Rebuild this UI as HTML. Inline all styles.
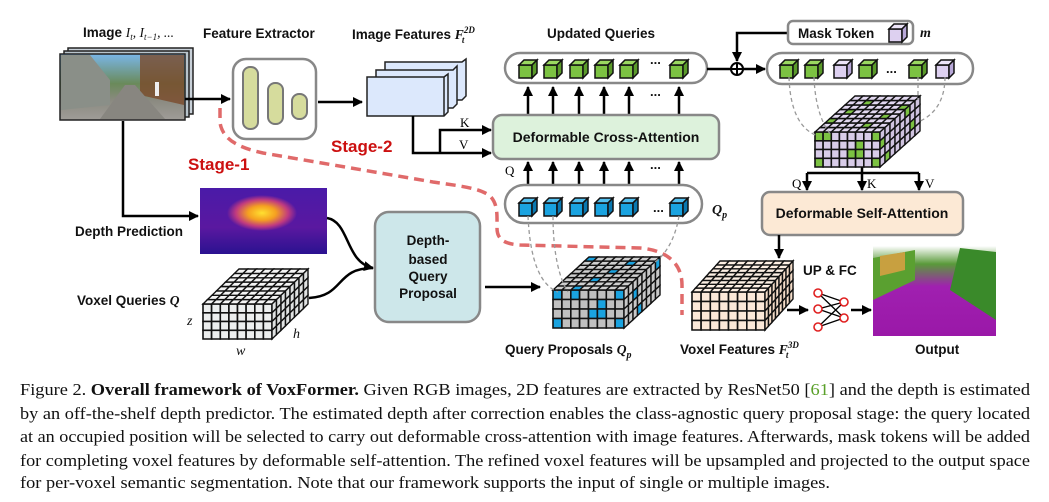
<!DOCTYPE html>
<html><head><meta charset="utf-8"><style>
html,body{margin:0;padding:0;background:#fff;}
svg{display:block;}
.b{font-family:"Liberation Sans",sans-serif;font-weight:bold;fill:#111;}
.m{font-family:"Liberation Serif",serif;font-style:italic;fill:#111;}
.cap{font-family:"Liberation Serif",serif;font-size:16.5px;fill:#111;}
</style></head><body>
<svg id="s" width="1049" height="502" viewBox="0 0 1049 502" xmlns="http://www.w3.org/2000/svg">
<defs>
<marker id="ah" viewBox="0 0 10 10" refX="9" refY="5" markerWidth="4" markerHeight="4" orient="auto"><path d="M0,0 L10,5 L0,10 z" fill="#000"/></marker>
<linearGradient id="sky" x1="0" y1="0" x2="0" y2="1"><stop offset="0" stop-color="#7ab6e8"/><stop offset="0.45" stop-color="#6a8a5a"/><stop offset="0.7" stop-color="#8a8a80"/><stop offset="1" stop-color="#a09c98"/></linearGradient>
<linearGradient id="dep" x1="0" y1="0" x2="0" y2="1"><stop offset="0" stop-color="#4a1aa8"/><stop offset="0.6" stop-color="#5a18a0"/><stop offset="1" stop-color="#2a1290"/></linearGradient>
<radialGradient id="hot" cx="0.5" cy="0.5" r="0.5"><stop offset="0" stop-color="#ffe030"/><stop offset="0.4" stop-color="#f5a020"/><stop offset="0.75" stop-color="#c03a80"/><stop offset="1" stop-color="#c03a80" stop-opacity="0"/></radialGradient>
<linearGradient id="outg" x1="0" y1="0" x2="0" y2="1"><stop offset="0" stop-color="#ffffff"/><stop offset="0.2" stop-color="#5a9a3a"/><stop offset="0.45" stop-color="#a020b0"/><stop offset="1" stop-color="#9a18a8"/></linearGradient>
</defs>

<!-- photo stack -->
<rect x="68" y="48" width="125" height="66" fill="#c8d0d8" stroke="#222" stroke-width="1.5"/>
<rect x="64" y="51" width="125" height="66" fill="#b8c4cc" stroke="#222" stroke-width="1.5"/>
<rect x="60" y="54" width="125" height="66" fill="url(#sky)" stroke="#222" stroke-width="1.5"/>
<path d="M61,55 L90,55 L110,80 L110,105 L61,110 z" fill="#8a8f88"/>
<path d="M140,55 L184,55 L184,105 L140,95 z" fill="#7a4a2a" opacity="0.8"/>
<path d="M100,119 L125,85 L135,85 L165,119 z" fill="#888680"/>
<rect x="155" y="82" width="4" height="14" fill="#eee"/>

<text class="b" x="83" y="37" font-size="13.5">Image <tspan class="m" font-weight="normal">I<tspan font-size="9" dy="3">t</tspan><tspan dy="-3">, I</tspan><tspan font-size="9" dy="3">t−1</tspan><tspan dy="-3">, ...</tspan></tspan></text>
<text class="b" x="203" y="38" font-size="13.5">Feature Extractor</text>
<text class="b" x="352" y="39" font-size="13.5">Image Features <tspan class="m">F</tspan><tspan class="m" font-size="9" dy="-6">2D</tspan><tspan class="m" font-size="9" dx="-13" dy="10">t</tspan></text>

<line x1="185" y1="99" x2="230" y2="99" stroke="#000" stroke-width="2.5" marker-end="url(#ah)"/>
<!-- feature extractor -->
<rect x="233" y="59" width="83" height="80" rx="13" fill="#fff" stroke="#888" stroke-width="2.5"/>
<rect x="243" y="67" width="15" height="62" rx="7" fill="#d6dc9d" stroke="#777" stroke-width="2"/>
<rect x="268" y="83" width="15" height="41" rx="7" fill="#d6dc9d" stroke="#777" stroke-width="2"/>
<rect x="292" y="94" width="15" height="25" rx="7" fill="#d6dc9d" stroke="#777" stroke-width="2"/>
<line x1="318" y1="102" x2="362" y2="102" stroke="#000" stroke-width="2.5" marker-end="url(#ah)"/>
<!-- image features -->
<g stroke="#222" stroke-width="1.5" fill="#dce8fc">
<path d="M385,62 L462,62 L466,59 L466,96 L462,100 L385,100 z"/>
<path d="M376,70 L453,70 L457,66 L457,104 L453,108 L376,108 z"/>
<path d="M367,77 L444,77 L448,74 L448,112 L444,116 L367,116 z"/>
<line x1="444" y1="77" x2="444" y2="116"/>
</g>
<path d="M413,116 L413,153 L491,153" fill="none" stroke="#000" stroke-width="2.5" marker-end="url(#ah)"/>
<path d="M440,153 L440,130 L491,130" fill="none" stroke="#000" stroke-width="2.5" marker-end="url(#ah)"/>
<text x="460" y="127" font-family="Liberation Serif" font-size="13">K</text>
<text x="459" y="149" font-family="Liberation Serif" font-size="13">V</text>

<text class="b" x="188" y="170" font-size="17" fill="#cc1010" style="fill:#cc1010">Stage-1</text>
<text class="b" x="331" y="152" font-size="17" style="fill:#cc1010">Stage-2</text>

<!-- depth -->
<path d="M123,121 L123,216 L198,216" fill="none" stroke="#000" stroke-width="2.5" marker-end="url(#ah)"/>
<rect x="200" y="188" width="127" height="66" fill="url(#dep)"/>
<ellipse cx="262" cy="213" rx="35" ry="18" fill="url(#hot)"/>
<text class="b" x="75" y="236" font-size="13.5">Depth Prediction</text>
<path d="M327,218 C350,222 345,262 373,268" fill="none" stroke="#000" stroke-width="2.5" marker-end="url(#ah)"/>
<path d="M309,298 C345,296 335,268 373,268" fill="none" stroke="#000" stroke-width="2.5"/>

<text class="b" x="77" y="305" font-size="13.5">Voxel Queries <tspan class="m">Q</tspan></text>
<text class="m" x="187" y="325" font-size="14">z</text>
<text class="m" x="293" y="338" font-size="14">h</text>
<text class="m" x="236" y="355" font-size="14">w</text>

<!-- DQP -->
<rect x="375" y="212" width="105" height="110" rx="14" fill="#cde7ea" stroke="#888" stroke-width="2.5"/>
<text class="b" font-size="13.5" text-anchor="middle"><tspan x="428" y="245">Depth-</tspan><tspan x="428" y="264">based</tspan><tspan x="428" y="281">Query</tspan><tspan x="428" y="298">Proposal</tspan></text>
<line x1="485" y1="287" x2="540" y2="287" stroke="#000" stroke-width="2.5" marker-end="url(#ah)"/>

<!-- updated queries -->
<text class="b" x="547" y="38" font-size="13.5">Updated Queries</text>
<rect x="505" y="53" width="202" height="30" rx="15" fill="#fff" stroke="#888" stroke-width="2.5"/>
<text x="650" y="64" font-size="13" class="b">...</text>
<text x="650" y="96" font-size="13" class="b">...</text>
<text x="650" y="169" font-size="13" class="b">...</text>
<g id="uparrows"></g>
<rect x="493" y="115" width="226" height="44" rx="9" fill="#ddf2dc" stroke="#888" stroke-width="2.5"/>
<text class="b" x="606" y="142" font-size="14" text-anchor="middle">Deformable Cross-Attention</text>
<text x="505" y="175" font-family="Liberation Serif" font-size="13">Q</text>
<rect x="505" y="185" width="197" height="38" rx="19" fill="#fff" stroke="#888" stroke-width="2.5"/>
<text x="653" y="212" font-size="13" class="b">...</text>
<text class="m" x="712" y="214" font-size="14" font-weight="bold">Q<tspan font-size="10" dy="4">p</tspan></text>

<!-- plus & mask -->
<line x1="707" y1="69" x2="765" y2="69" stroke="#000" stroke-width="2.5" marker-end="url(#ah)"/>
<path d="M788,33 L737,33 L737,61" fill="none" stroke="#000" stroke-width="2.5" marker-end="url(#ah)"/>
<circle cx="737" cy="69" r="6" fill="#fff" stroke="#000" stroke-width="2"/>
<path d="M731,69 L743,69 M737,63 L737,75" stroke="#000" stroke-width="2"/>
<rect x="788" y="21" width="125" height="23" rx="5" fill="#fff" stroke="#888" stroke-width="2.5"/>
<text class="b" x="798" y="38" font-size="13.5">Mask Token</text>
<text class="m" x="920" y="37" font-size="14" font-weight="bold">m</text>
<rect x="767" y="53" width="206" height="31" rx="15" fill="#fff" stroke="#888" stroke-width="2.5"/>
<text x="886" y="73" font-size="13" class="b">...</text>

<!-- DSA -->
<path d="M807,173 L919,173 M862,165 L862,173" stroke="#000" stroke-width="2.5"/>
<line x1="807" y1="173" x2="807" y2="190" stroke="#000" stroke-width="2.5" marker-end="url(#ah)"/>
<line x1="862" y1="173" x2="862" y2="190" stroke="#000" stroke-width="2.5" marker-end="url(#ah)"/>
<line x1="919" y1="173" x2="919" y2="190" stroke="#000" stroke-width="2.5" marker-end="url(#ah)"/>
<text x="792" y="188" font-family="Liberation Serif" font-size="13">Q</text>
<text x="867" y="188" font-family="Liberation Serif" font-size="13">K</text>
<text x="925" y="188" font-family="Liberation Serif" font-size="13">V</text>
<rect x="762" y="192" width="201" height="43" rx="8" fill="#fce9d5" stroke="#888" stroke-width="2.5"/>
<text class="b" x="862" y="218" font-size="14" text-anchor="middle">Deformable Self-Attention</text>
<line x1="779" y1="235" x2="779" y2="258" stroke="#000" stroke-width="2.5" marker-end="url(#ah)"/>

<text class="b" x="505" y="354" font-size="13.5">Query Proposals <tspan class="m">Q<tspan font-size="10" dy="4">p</tspan></tspan></text>
<text class="b" x="680" y="354" font-size="13.5">Voxel Features <tspan class="m">F</tspan><tspan class="m" font-size="9" dy="-6">3D</tspan><tspan class="m" font-size="9" dx="-13" dy="10">t</tspan></text>
<text class="b" x="803" y="275" font-size="13.5">UP &amp; FC</text>
<line x1="787" y1="310" x2="808" y2="310" stroke="#000" stroke-width="2.5" marker-end="url(#ah)"/>
<g stroke="#000" stroke-width="1.3"><path d="M818,293 L844,302 M818,293 L844,318 M818,309 L844,302 M818,309 L844,318 M818,327 L844,302 M818,327 L844,318"/></g>
<g fill="#fff" stroke="#e02020" stroke-width="1.6"><circle cx="818" cy="293" r="4"/><circle cx="818" cy="309" r="4"/><circle cx="818" cy="327" r="4"/><circle cx="844" cy="302" r="4"/><circle cx="844" cy="318" r="4"/></g>
<line x1="851" y1="310" x2="871" y2="310" stroke="#000" stroke-width="2.5" marker-end="url(#ah)"/>
<rect x="873" y="246" width="123" height="90" fill="url(#outg)"/>
<path d="M873,258 L915,250 L915,280 L873,300 z" fill="#5aa030"/>
<path d="M960,248 L996,252 L996,320 L950,290 z" fill="#3a8a2a"/>
<path d="M880,256 L905,252 L905,270 L880,276 z" fill="#c8a040"/>
<text class="b" x="915" y="354" font-size="13.5">Output</text>

<g id="cubes"></g>

<path d="M220,108 L220,122 C222,140 240,148 263,153 L433,182 C460,186 480,188 490,196 C498,204 497,215 497,228 C497,240 505,244 520,245 L640,248 C665,250 682,262 682,285 L682,315" fill="none" stroke="#e06a6a" stroke-width="3.5" stroke-dasharray="10 6"/>
<g fill="none" stroke="#999" stroke-width="1.3" stroke-dasharray="4 3">
<path d="M528,216 C530,260 540,285 558,292"/>
<path d="M553,216 C553,255 560,280 568,292"/>
<path d="M679,216 C675,240 665,255 655,262"/>
<path d="M789,77 C790,110 800,130 818,136"/>
<path d="M814,77 C815,105 822,125 832,136"/>
<path d="M918,77 L918,100"/>
<path d="M945,77 C945,100 935,115 918,122"/>
</g>

<text class="cap" x="20" y="395" textLength="1010" lengthAdjust="spacingAndGlyphs">Figure 2. <tspan font-weight="bold">Overall framework of VoxFormer.</tspan> Given RGB images, 2D features are extracted by ResNet50 [<tspan fill="#5aa02a">61</tspan>] and the depth is estimated</text>
<text class="cap" x="20" y="419" textLength="1010" lengthAdjust="spacingAndGlyphs">by an off-the-shelf depth predictor. The estimated depth after correction enables the class-agnostic query proposal stage: the query located</text>
<text class="cap" x="20" y="442" textLength="1010" lengthAdjust="spacingAndGlyphs">at an occupied position will be selected to carry out deformable cross-attention with image features. Afterwards, mask tokens will be added</text>
<text class="cap" x="20" y="466" textLength="1010" lengthAdjust="spacingAndGlyphs">for completing voxel features by deformable self-attention. The refined voxel features will be upsampled and projected to the output space</text>
<text class="cap" x="20" y="488" textLength="810" lengthAdjust="spacingAndGlyphs">for per-voxel semantic segmentation. Note that our framework supports the input of single or multiple images.</text>
</svg>
<script>
var NS="http://www.w3.org/2000/svg";
var G=document.getElementById("cubes"), U=document.getElementById("uparrows");
function el(p,tag,a){var e=document.createElementNS(NS,tag);for(var k in a)e.setAttribute(k,a[k]);p.appendChild(e);return e;}
function poly(p,pts,fill,sw){el(p,"polygon",{points:pts.map(function(q){return q[0].toFixed(1)+","+q[1].toFixed(1)}).join(" "),fill:fill,stroke:"#111","stroke-width":sw||1});}
function small(cx,cy,c){var s=13,d=5,x=cx-s/2-d/2,y=cy-s/2+d/2;
 var cols={g:["#7cc242","#5a9a2a","#9ad860"],b:["#1aa3e0","#0a78b0","#52c0f0"],p:["#ddd0f0","#b8a8d8","#ece4f8"]}[c];
 poly(G,[[x,y],[x+s,y],[x+s,y+s],[x,y+s]],cols[0],1.5);
 poly(G,[[x,y],[x+d,y-d],[x+s+d,y-d],[x+s,y]],cols[2],1.5);
 poly(G,[[x+s,y],[x+s+d,y-d],[x+s+d,y+s-d],[x+s,y+s]],cols[1],1.5);}
function grid(x,y,w,h,dx,dy,C,R,D,fc,tc,sc){
 var cw=w/C,ch=h/R,ex=dx/D,ey=dy/D,i,j;
 for(i=0;i<C;i++)for(j=0;j<R;j++)poly(G,[[x+i*cw,y+j*ch],[x+(i+1)*cw,y+j*ch],[x+(i+1)*cw,y+(j+1)*ch],[x+i*cw,y+(j+1)*ch]],fc(i,j),1.6);
 for(i=0;i<C;i++)for(j=0;j<D;j++){var bx=x+i*cw+j*ex,by=y+j*ey;poly(G,[[bx,by],[bx+cw,by],[bx+cw+ex,by+ey],[bx+ex,by+ey]],tc(i,j),1.4);}
 for(j=0;j<D;j++)for(var r=0;r<R;r++){var bx=x+w+j*ex,by=y+r*ch+j*ey;poly(G,[[bx,by],[bx+ex,by+ey],[bx+ex,by+ey+ch],[bx,by+ch]],sc(j,r),1.4);}
}
function h(a,b){return ((a*7+b*13)%11);}
// voxel queries
grid(203,304,69,35,36,-35,8,4,8,function(){return"#eceeee"},function(){return"#f4f4f4"},function(){return"#e0e2e2"});
// query proposals
grid(553,290,71,38,36,-33,8,4,8,function(i,j){return (j==0&&(i==0||i==2||i==7))||(i==5&&j>0&&j<3)||(j==3&&(i==0||i==7))||(i==4&&j==2)?"#1aa3e0":"#c0c0c0"},function(i,j){return h(i,j)==3?"#1aa3e0":"#cfcfcf"},function(j,r){return h(j,r)==5?"#1aa3e0":"#c8c8c8"});
// purple cube
grid(815,132,65,35,40,-36,8,4,8,function(i,j){return (j==0&&(i==0||i==1||i==7))||(i==5&&(j==1||j==2))||(j==3&&(i==0||i==7))||(i==4&&j==2)?"#7cc242":"#d8cce8"},function(i,j){return h(i,j)==4?"#7cc242":"#e2d8f0"},function(j,r){return h(j,r)==2?"#7cc242":"#d0c4e0"});
// voxel features
grid(692,292,73,38,28,-31,8,4,8,function(){return"#fbe8d8"},function(){return"#fdf0e4"},function(){return"#f4dcc8"});
var xs=[528,553,579,604,629,679];
xs.forEach(function(x){small(x,69,"g");small(x,207,"b");
 el(U,"line",{x1:x,y1:115,x2:x,y2:87,stroke:"#000","stroke-width":2.5,"marker-end":"url(#ah)"});
 el(U,"line",{x1:x,y1:185,x2:x,y2:162,stroke:"#000","stroke-width":2.5,"marker-end":"url(#ah)"});});
[[789,"g"],[814,"g"],[843,"p"],[868,"g"],[918,"g"],[945,"p"]].forEach(function(a){small(a[0],69,a[1]);});
small(898,33,"p");
</script>
</body></html>
